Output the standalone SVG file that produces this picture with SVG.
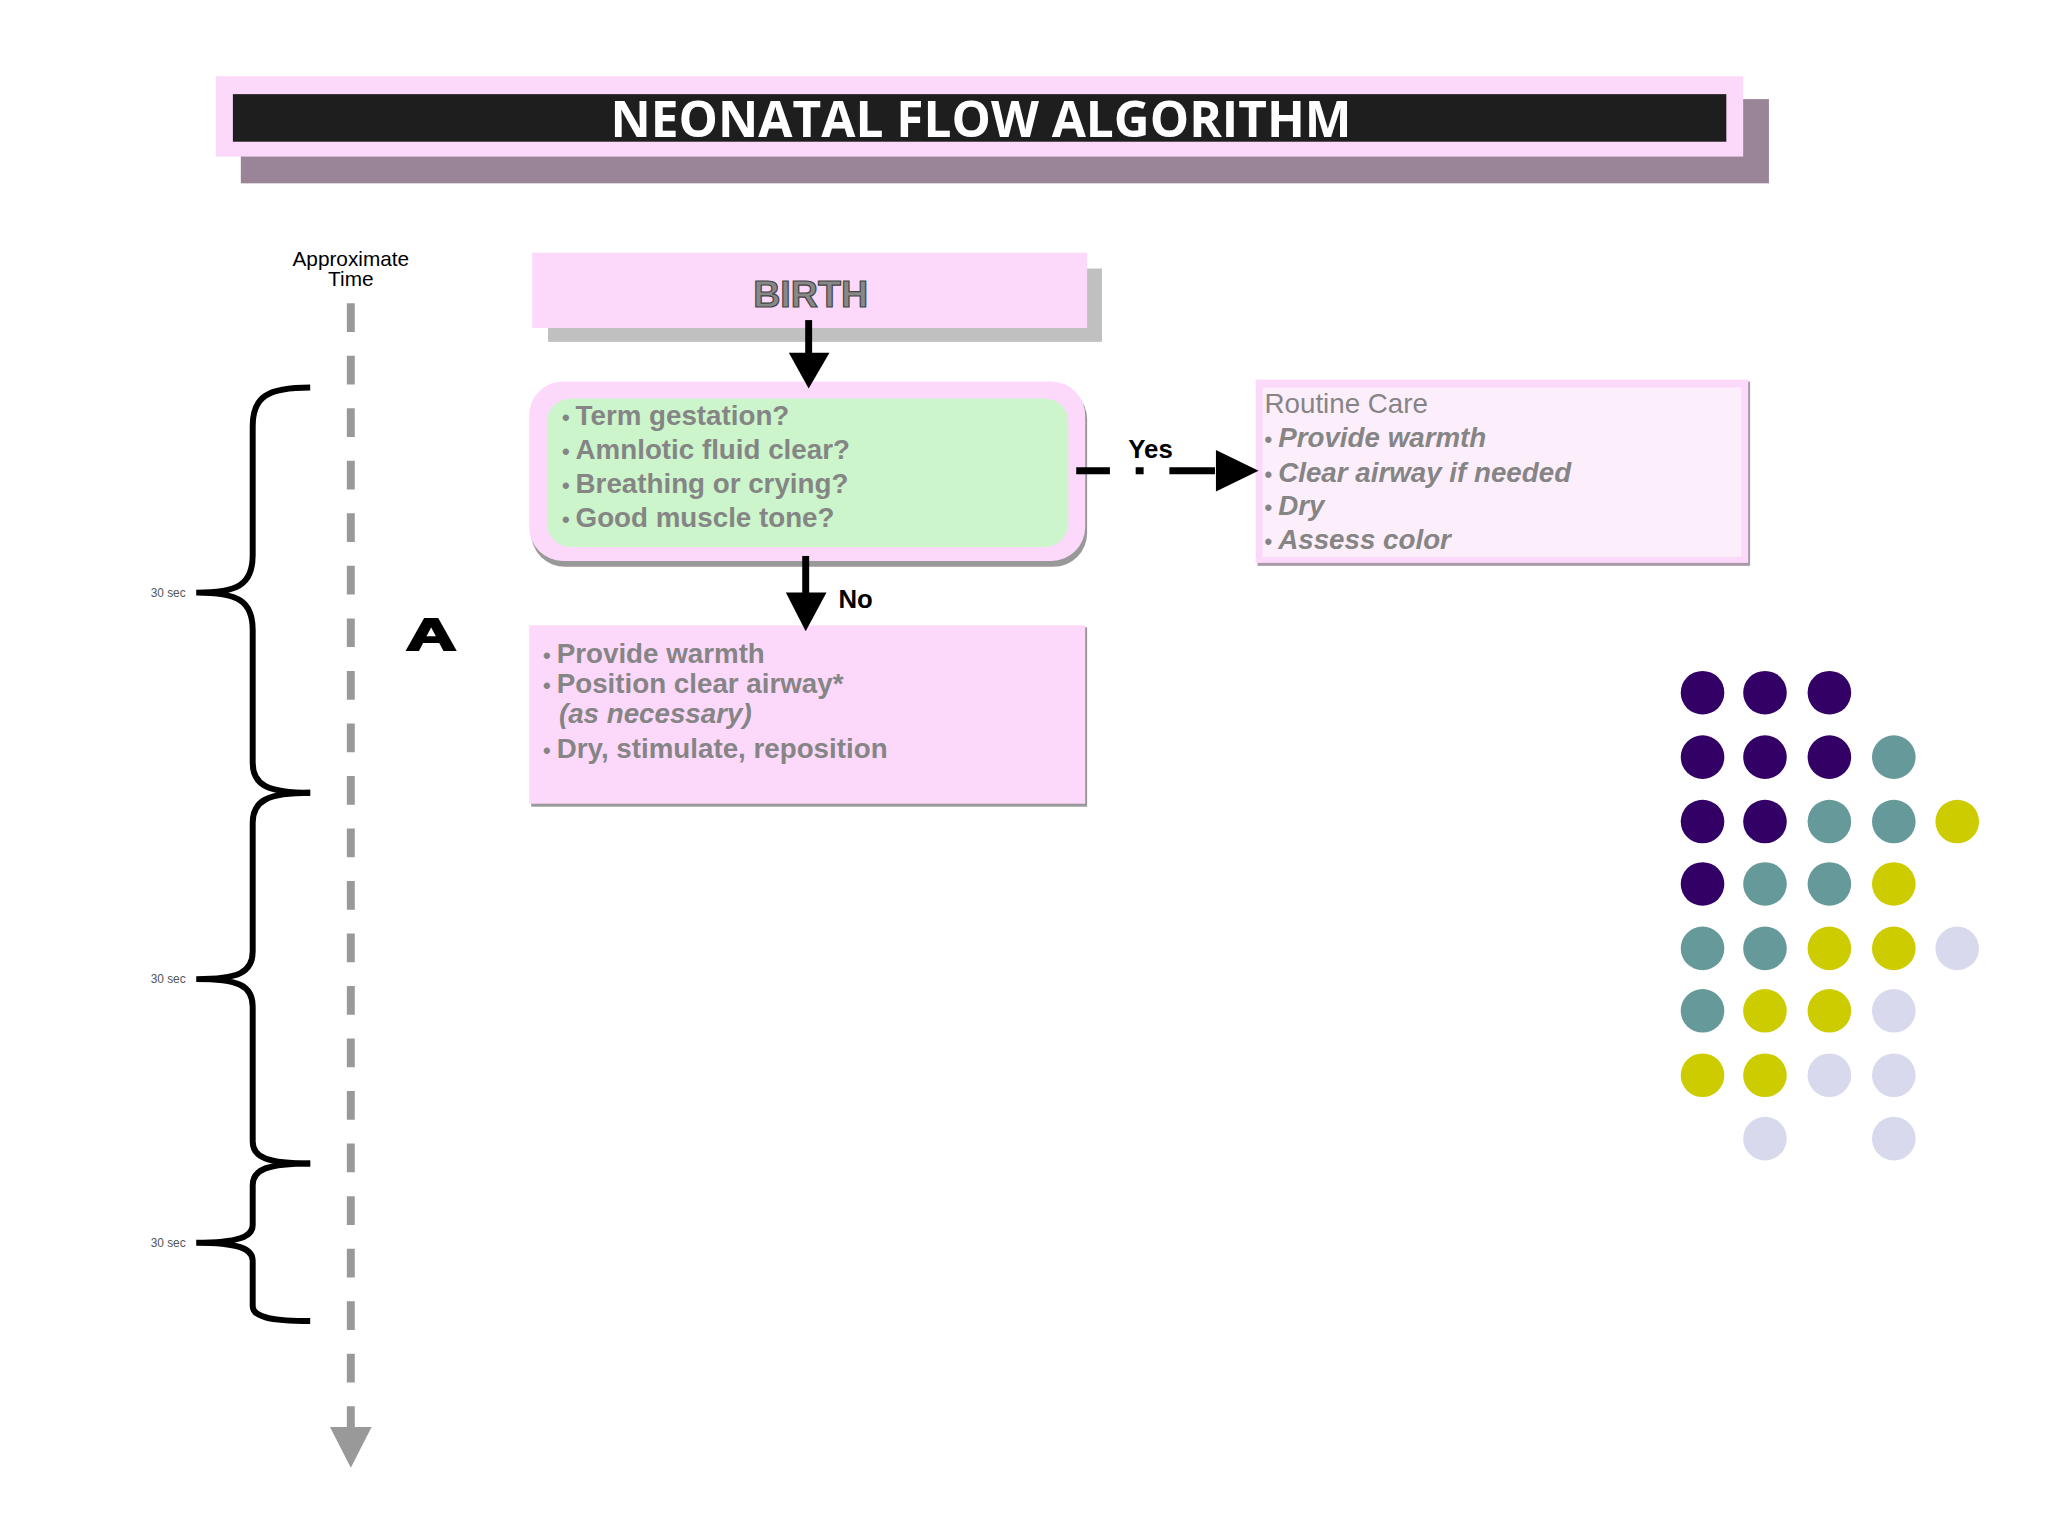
<svg xmlns="http://www.w3.org/2000/svg" width="2048" height="1536" viewBox="0 0 2048 1536">
<style>
.g{font-family:"Liberation Sans",Arial,sans-serif;font-weight:bold;fill:#858585;font-size:28px}
.i{font-style:italic}
.b{font-size:22px;font-style:normal}
.s{font-family:"Liberation Sans",Arial,sans-serif;font-size:12px;fill:#555}
.brace{fill:none;stroke:#000;stroke-width:6}
</style>
<defs>
<clipPath id="rc"><rect x="230" y="143" width="1540" height="16"/></clipPath>
</defs>
<rect width="2048" height="1536" fill="#fff"/>
<g transform="scale(0.991)">
<g id="title">
<rect x="243" y="100" width="1542" height="85" fill="#9a8598"/>
<rect x="218" y="77" width="1541" height="81" fill="#fcd9fa"/>
<rect x="235" y="95" width="1507" height="48" fill="#1e1e1e"/>
<text x="990" y="138" text-anchor="middle" font-family="'Open Sans','Liberation Sans',sans-serif" font-weight="bold" font-size="50" fill="#fff">NEONATAL FLOW ALGORITHM</text>
<text x="1010" y="142" text-anchor="middle" font-family="'Open Sans','Liberation Sans',sans-serif" font-weight="bold" font-size="50" fill="#b8a6b6" clip-path="url(#rc)">NEONATAL FLOW ALGORITHM</text>
</g>
<g id="timeline">
<text x="354" y="268" text-anchor="middle" font-family="'Liberation Sans',Arial,sans-serif" font-size="21">Approximate</text>
<text x="354" y="289" text-anchor="middle" font-family="'Liberation Sans',Arial,sans-serif" font-size="21">Time</text>
<line x1="354" y1="306" x2="354" y2="1440" stroke="#999" stroke-width="8" stroke-dasharray="29,24"/>
<path d="M333,1440L375,1440L354,1481z" fill="#999"/>
</g>
<g id="braces">
<path class="brace" d="M313,391C270,391 255,400 255,430L255,560C255,590 240,598 198,598C240,598 255,606 255,636L255,770C255,792 270,800 313,800"/>
<path class="brace" d="M313,800C270,800 255,808 255,830L255,960C255,982 240,988 198,988C240,988 255,994 255,1016L255,1152C255,1168 270,1174 313,1174"/>
<path class="brace" d="M313,1174C270,1174 255,1180 255,1196L255,1236C255,1248 240,1254 198,1254C240,1254 255,1260 255,1272L255,1318C255,1328 270,1333 313,1333"/>
<text class="s" x="152" y="602">30 sec</text>
<text class="s" x="152" y="992">30 sec</text>
<text class="s" x="152" y="1258">30 sec</text>
<text x="435" y="656" text-anchor="middle" font-family="'Liberation Sans',Arial,sans-serif" font-weight="900" font-size="44" transform="translate(435,656) scale(1.6,1) translate(-435,-656)" stroke="#000" stroke-width="2">A</text>
</g>
<g id="birth">
<rect x="553" y="271" width="559" height="74" fill="#c0c0c0"/>
<rect x="537" y="255" width="560" height="76" fill="#fcd9fa"/>
<text x="818" y="310" text-anchor="middle" font-family="'Liberation Sans',Arial,sans-serif" font-weight="bold" font-size="38" fill="#888" stroke="#444" stroke-width="1.2">BIRTH</text>
</g>
<g id="questions">
<rect x="536" y="389" width="561" height="183" rx="34" fill="#999"/>
<rect x="534" y="385" width="561" height="181" rx="34" fill="#fcd9fa"/>
<rect x="552" y="402" width="526" height="150" rx="24" fill="#ccf5cc"/>
<text class="g" x="567" y="429"><tspan class="b">• </tspan>Term gestation?</text>
<text class="g" x="567" y="463"><tspan class="b">• </tspan>Amnlotic fluid clear?</text>
<text class="g" x="567" y="497"><tspan class="b">• </tspan>Breathing or crying?</text>
<text class="g" x="567" y="532"><tspan class="b">• </tspan>Good muscle tone?</text>
</g>
<g id="routine">
<rect x="1269" y="385" width="497" height="186" fill="#a89aa6"/>
<rect x="1267" y="383" width="497" height="185" fill="#fcd9fa"/>
<rect x="1274" y="391" width="483" height="171" fill="#fdeefb"/>
<text class="g" x="1276" y="417" style="font-weight:normal">Routine Care</text>
<text class="g i" x="1276" y="451"><tspan class="b">• </tspan>Provide warmth</text>
<text class="g i" x="1276" y="486"><tspan class="b">• </tspan>Clear airway if needed</text>
<text class="g i" x="1276" y="520"><tspan class="b">• </tspan>Dry</text>
<text class="g i" x="1276" y="554"><tspan class="b">• </tspan>Assess color</text>
</g>
<g id="steps">
<rect x="536" y="633" width="561" height="181" fill="#999"/>
<rect x="534" y="631" width="561" height="180" fill="#fcd9fa"/>
<text class="g" x="548" y="669"><tspan class="b">• </tspan>Provide warmth</text>
<text class="g" x="548" y="699"><tspan class="b">• </tspan>Position clear airway*</text>
<text class="g i" x="564" y="730">(as necessary)</text>
<text class="g" x="548" y="765"><tspan class="b">• </tspan>Dry, stimulate, reposition</text>
</g>
<g id="connectors">
<line x1="816" y1="323" x2="816" y2="360" stroke="#000" stroke-width="7"/>
<path d="M796,356L837,356L816,392z" fill="#000"/>
<line x1="813" y1="561" x2="813" y2="602" stroke="#000" stroke-width="7"/>
<path d="M793,598L834,598L813,637z" fill="#000"/>
<text x="846" y="614" font-family="'Liberation Sans',Arial,sans-serif" font-weight="bold" font-size="26">No</text>
<path d="M1086,475H1120M1146,475H1154M1180,475H1226" stroke="#000" stroke-width="7" fill="none"/>
<path d="M1227,454L1270,475L1227,496z" fill="#000"/>
<text x="1161" y="462" text-anchor="middle" font-family="'Liberation Sans',Arial,sans-serif" font-weight="bold" font-size="26">Yes</text>
</g>
<g id="dots">
<g fill="#330066">
<circle cx="1718" cy="699" r="22"/><circle cx="1781" cy="699" r="22"/><circle cx="1846" cy="699" r="22"/>
<circle cx="1718" cy="764" r="22"/><circle cx="1781" cy="764" r="22"/><circle cx="1846" cy="764" r="22"/>
<circle cx="1718" cy="829" r="22"/><circle cx="1781" cy="829" r="22"/>
<circle cx="1718" cy="892" r="22"/>
</g>
<g fill="#669999">
<circle cx="1911" cy="764" r="22"/>
<circle cx="1846" cy="829" r="22"/><circle cx="1911" cy="829" r="22"/>
<circle cx="1781" cy="892" r="22"/><circle cx="1846" cy="892" r="22"/>
<circle cx="1718" cy="957" r="22"/><circle cx="1781" cy="957" r="22"/>
<circle cx="1718" cy="1020" r="22"/>
</g>
<g fill="#cccc00">
<circle cx="1975" cy="829" r="22"/>
<circle cx="1911" cy="892" r="22"/>
<circle cx="1846" cy="957" r="22"/><circle cx="1911" cy="957" r="22"/>
<circle cx="1781" cy="1020" r="22"/><circle cx="1846" cy="1020" r="22"/>
<circle cx="1718" cy="1085" r="22"/><circle cx="1781" cy="1085" r="22"/>
</g>
<g fill="#d9d9ee">
<circle cx="1975" cy="957" r="22"/>
<circle cx="1911" cy="1020" r="22"/>
<circle cx="1846" cy="1085" r="22"/><circle cx="1911" cy="1085" r="22"/>
<circle cx="1781" cy="1149" r="22"/><circle cx="1911" cy="1149" r="22"/>
</g>
</g>
</g>
</svg>
